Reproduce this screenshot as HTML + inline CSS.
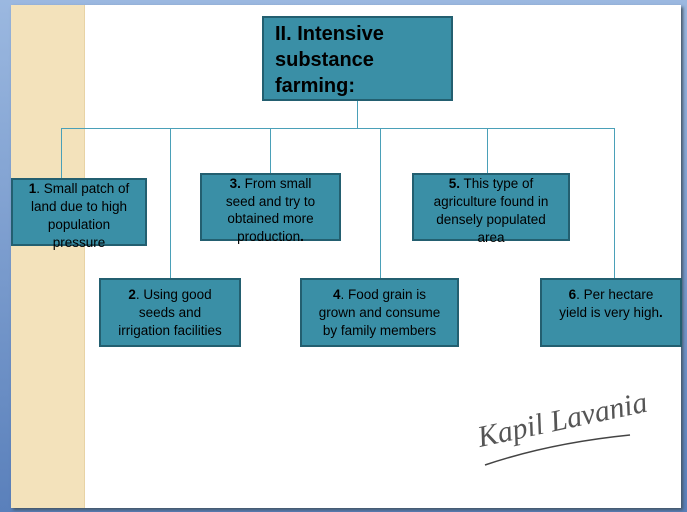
<!DOCTYPE html>
<html><head><style>
body{margin:0;width:687px;height:512px;overflow:hidden;background:linear-gradient(180deg,#9bb8e0,#5a80bb);position:relative;font-family:"Liberation Sans",sans-serif}
.slide{position:absolute;left:11px;top:5px;width:670px;height:503px;background:#fff;box-shadow:2px 2px 3px #456}
.strip{position:absolute;left:11px;top:5px;width:73px;height:503px;background:#f3e2bb;border-right:1px solid #e8d3a5}
.b{position:absolute;background:#3a8fa6;border:2px solid #235f70;box-sizing:border-box;color:#000;text-align:center;font-size:13.5px;line-height:18px;white-space:nowrap}
.l{position:absolute;background:#4aa0b8}
</style></head><body>
<div class="slide"></div><div class="strip"></div>
<div class="l" style="left:357px;top:100px;width:1px;height:28px"></div>
<div class="l" style="left:61px;top:128px;width:554px;height:1px"></div>
<div class="l" style="left:61px;top:128px;width:1px;height:50px"></div>
<div class="l" style="left:170px;top:128px;width:1px;height:150px"></div>
<div class="l" style="left:270px;top:128px;width:1px;height:45px"></div>
<div class="l" style="left:380px;top:128px;width:1px;height:150px"></div>
<div class="l" style="left:487px;top:128px;width:1px;height:45px"></div>
<div class="l" style="left:614px;top:128px;width:1px;height:150px"></div>
<div class="b" style="left:262px;top:16px;width:191px;height:85px;font-size:20px;font-weight:bold;line-height:26px;text-align:left;padding:3px 0 0 11px">II. Intensive<br>substance<br>farming:</div>
<div class="b" style="left:11px;top:178px;width:136px;height:68px"><b>1</b>. Small patch of<br>land due to high<br>population<br>pressure</div>
<div class="b" style="left:200px;top:173px;width:141px;height:68px;line-height:17.5px"><b>3.</b> From small<br>seed and try to<br>obtained more<br>production<b>.</b></div>
<div class="b" style="left:412px;top:173px;width:158px;height:68px"><b>5.</b> This type of<br>agriculture found in<br>densely populated<br>area</div>
<div class="b" style="left:99px;top:278px;width:142px;height:69px;padding-top:6px"><b>2</b>. Using good<br>seeds and<br>irrigation facilities</div>
<div class="b" style="left:300px;top:278px;width:159px;height:69px;padding-top:6px"><b>4</b>. Food grain is<br>grown and consume<br>by family members</div>
<div class="b" style="left:540px;top:278px;width:142px;height:69px;padding-top:6px"><b>6</b>. Per hectare<br>yield is very high<b>.</b></div>
<svg style="position:absolute;left:470px;top:385px" width="190" height="90"><text x="10" y="62" font-family="Liberation Serif,serif" font-style="italic" font-size="30" fill="#555" transform="rotate(-12 10 62)">Kapil Lavania</text><path d="M15 80 Q80 58 160 50" stroke="#444" stroke-width="1.5" fill="none"/></svg>
</body></html>
